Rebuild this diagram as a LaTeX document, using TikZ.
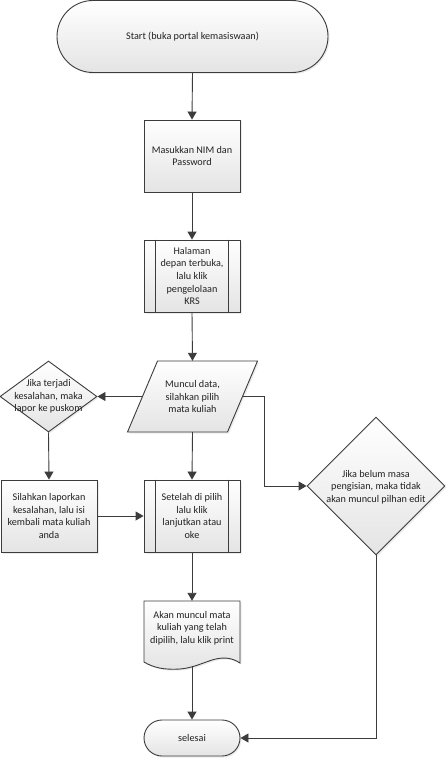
\documentclass[tikz,border=0pt]{standalone}
\usepackage{fontspec}
\setmainfont{Carlito}
\usetikzlibrary{shapes.geometric,arrows.meta,shadows}
\definecolor{ln}{HTML}{3C3C3C}
\definecolor{fb}{HTML}{E4E4E4}
\definecolor{tx}{HTML}{222222}
\tikzset{
  shp/.style={draw=ln, line width=0.9pt, top color=white, bottom color=fb,
    drop shadow={shadow xshift=1.5pt, shadow yshift=-1.5pt, opacity=0.15}},
  txt/.style={font=\fontsize{10.2}{12.7}\selectfont, text=tx, align=center},
  boxn/.style={shp, txt, rectangle, minimum width=96pt, minimum height=72pt, inner sep=0pt},
  predef/.style={boxn},
  dia/.style={shp, diamond, inner sep=0pt},
  conn/.style={draw=ln, line width=0.9pt, -{Triangle[length=8pt,width=9pt]}},
  plain/.style={txt, inner sep=0pt},
}
\begin{document}
\begin{tikzpicture}[x=1pt,y=-1pt]
\useasboundingbox[fill=white] (0,0) rectangle (447,759);

% start
\node[shp, txt, rectangle, rounded corners=36pt, minimum width=271pt, minimum height=72pt, inner sep=0pt] (start) at (192.5,36.5) {Start (buka portal kemasiswaan)};

% masukkan
\node[boxn] (masuk) at (192,156) {Masukkan NIM dan\\Password};

% halaman
\node[predef] (hal) at (192,276) {Halaman\\depan terbuka,\\lalu klik\\pengelolaan\\KRS};
\draw[draw=ln, line width=0.9pt] ([xshift=12pt]hal.north west) -- ([xshift=12pt]hal.south west)
  ([xshift=-12pt]hal.north east) -- ([xshift=-12pt]hal.south east);

% parallelogram
\coordinate (munc) at (192.5,396.5);
\path[shp] (157.5,361) -- (257.5,361) -- (227.5,432) -- (127.5,432) -- cycle;
\node[plain, minimum width=99pt, minimum height=71pt] (mun) at (munc) {Muncul data,\\silahkan pilih\\mata kuliah};

% left diamond
\node[dia, minimum width=97pt, minimum height=71pt] (d1) at (48.5,396.5) {};
\node[plain] (d1t) at (d1.center) {Jika terjadi\\kesalahan, maka\\lapor ke puskom};

% silahkan
\node[boxn] (sil) at (49,516) {Silahkan laporkan\\kesalahan, lalu isi\\kembali mata kuliah\\anda};

% setelah
\node[predef] (set) at (192,516) {Setelah di pilih\\lalu klik\\lanjutkan atau\\oke};
\draw[draw=ln, line width=0.9pt] ([xshift=12pt]set.north west) -- ([xshift=12pt]set.south west)
  ([xshift=-12pt]set.north east) -- ([xshift=-12pt]set.south east);

% right diamond
\node[dia, minimum width=138pt, minimum height=138pt] (d2) at (376,486) {};
\node[plain] (d2t) at (376,487) {Jika belum masa\\pengisian, maka tidak\\akan muncul pilhan edit};

% document
\path[shp] (144,601) -- (240,601) -- (240,663)
  .. controls (231,657) and (222,657) .. (212,660)
  .. controls (200,664) and (192,668) .. (180,669)
  .. controls (165,670) and (154,668) .. (144,662) -- cycle;
\node[plain, minimum width=96pt, minimum height=54pt] (doc) at (192,628) {Akan muncul mata\\kuliah yang telah\\dipilih, lalu klik print};
\coordinate (docb) at (192,665.5);

% selesai
\node[shp, txt, rectangle, rounded corners=18pt, minimum width=96pt, minimum height=36pt, inner sep=0pt] (sel) at (192,738) {selesai};

% connectors
\draw[conn] (start.south) -- (masuk.north);
\draw[conn] (masuk.south) -- (hal.north);
\draw[conn] (hal.south) -- (mun.north);
\draw[conn] (mun.west) -- (d1.east);
\draw[conn] (mun.east) -| (264,486) -- (d2.west);
\draw[conn] (mun.south) -- (set.north);
\draw[conn] (d1.south) -- (sil.north);
\draw[conn] (sil.east) -- (set.west);
\draw[conn] (set.south) -- (doc.north);
\draw[conn] (docb) -- (sel.north);
\draw[conn] (d2.south) |- (sel.east);
\end{tikzpicture}
\end{document}
